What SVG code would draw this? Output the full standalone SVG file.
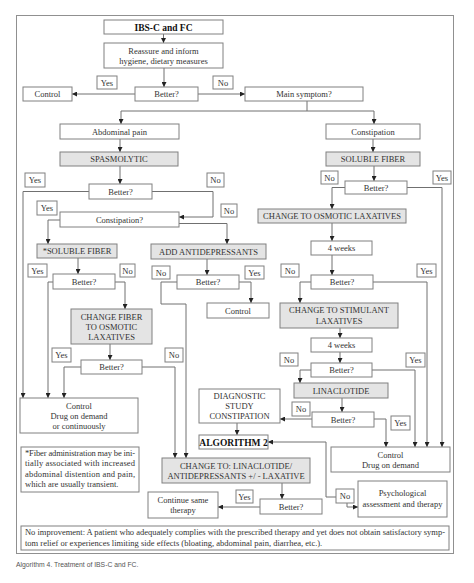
<svg xmlns="http://www.w3.org/2000/svg" width="474" height="583" viewBox="0 0 474 583">
<style>
.bx{fill:#fff;stroke:#808080;stroke-width:1}
.gr{fill:#e4e4e4;stroke:#808080;stroke-width:1}
.t{font-family:"Liberation Serif","Times New Roman",serif;font-size:8.5px;fill:#333;text-anchor:middle}
.b{font-weight:bold;font-size:9.5px;fill:#111}
.l{text-anchor:start}
.c{fill:none;stroke:#707070;stroke-width:1}
.cap{font-family:"Liberation Sans",Arial,sans-serif;font-size:6.8px;fill:#555}
</style>
<defs>
<marker id="ah" viewBox="0 0 6 6" refX="6" refY="3" markerWidth="5" markerHeight="5" orient="auto" markerUnits="userSpaceOnUse">
<path d="M0,0 L6,3 L0,6 z" fill="#222"/>
</marker>
</defs>
<rect width="474" height="583" fill="#fff"/>
<rect x="16.5" y="15.5" width="437" height="538" fill="none" stroke="#909090" stroke-width="1"/>

<g id="connectors" class="c" marker-end="url(#ah)">
<path d="M163.5,34 V43"/>
<path d="M164,68 V87"/>
<path d="M135,94 H72"/>
<path d="M198,94 H245"/>
<path d="M307,101 V111" marker-end="none"/>
<path d="M121,111 H374" marker-end="none"/>
<path d="M121,111 V124"/>
<path d="M374,111 V124"/>
<path d="M120,139 V152"/>
<path d="M120,166 V184"/>
<path d="M89,191.5 H23 V398"/>
<path d="M152,191.5 H213 V217 H179"/>
<path d="M60,220 H48 V244"/>
<path d="M179,223.5 H227 V244"/>
<path d="M78,258 V274"/>
<path d="M53,282 H48 V398"/>
<path d="M115,282 H125 V309"/>
<path d="M110,344 V360"/>
<path d="M81,367 H64 V398"/>
<path d="M142,367 H175 V458"/>
<path d="M207,259 V275"/>
<path d="M239,282 H251 V303"/>
<path d="M177,282 H161 V304 H186 V458"/>
<path d="M373,139 V152"/>
<path d="M374,166 V181"/>
<path d="M407,187.5 H442 V447"/>
<path d="M345,187.5 H332 V209"/>
<path d="M332,223 V241"/>
<path d="M332,255 V275"/>
<path d="M373,282 H427 V447"/>
<path d="M311,282 H300 V303"/>
<path d="M340,328 V338"/>
<path d="M340,352 V363"/>
<path d="M372,370 H415 V447"/>
<path d="M311,370 H300 V383"/>
<path d="M342,398 V412"/>
<path d="M374,419 H386 V447"/>
<path d="M312,419 H280"/>
<path d="M237,423 V435"/>
<path d="M282,483 V499"/>
<path d="M260,507 H218"/>
<path d="M336,497 H326 V442 H268"/>
<path d="M347,503 V507 H358"/>
</g>

<g id="n_ibs"><rect class="bx" x="104" y="20" width="119" height="14"/><text class="t b" x="163.5" y="30.5">IBS-C and FC</text></g>
<g id="n_reassure"><rect class="bx" x="104" y="43" width="119" height="25"/><text class="t" x="163.5" y="53.5">Reassure and inform</text><text class="t" x="163.5" y="63.8">hygiene, dietary measures</text></g>
<g id="l_yes1"><rect class="bx" x="97" y="76" width="20" height="13"/><text class="t" x="107" y="85.5">Yes</text></g>
<g id="l_no1"><rect class="bx" x="213" y="76" width="20" height="13"/><text class="t" x="223" y="85.5">No</text></g>
<g id="n_better1"><rect class="bx" x="135" y="87" width="63" height="14"/><text class="t" x="166.5" y="97">Better?</text></g>
<g id="n_control1"><rect class="bx" x="23" y="87" width="49" height="14"/><text class="t" x="47.5" y="97">Control</text></g>
<g id="n_main"><rect class="bx" x="245" y="87" width="118" height="14"/><text class="t" x="304" y="97">Main symptom?</text></g>
<g id="n_abd"><rect class="bx" x="60" y="124" width="119" height="15"/><text class="t" x="119.5" y="134.5">Abdominal pain</text></g>
<g id="n_constip"><rect class="bx" x="326" y="124" width="94" height="15"/><text class="t" x="373" y="134.5">Constipation</text></g>
<g id="n_spasmo"><rect class="gr" x="60" y="152" width="118" height="14"/><text class="t" x="119" y="162">SPASMOLYTIC</text></g>
<g id="l_yes2"><rect class="bx" x="25" y="173" width="20" height="14"/><text class="t" x="35" y="183">Yes</text></g>
<g id="l_no2"><rect class="bx" x="207" y="173" width="17" height="14"/><text class="t" x="215.5" y="183">No</text></g>
<g id="n_better2"><rect class="bx" x="89" y="184" width="63" height="15"/><text class="t" x="120.5" y="194.5">Better?</text></g>
<g id="l_yes3"><rect class="bx" x="37" y="201" width="20" height="14"/><text class="t" x="47" y="211">Yes</text></g>
<g id="l_no3"><rect class="bx" x="221" y="204" width="16" height="13"/><text class="t" x="229" y="213.5">No</text></g>
<g id="n_constq"><rect class="bx" x="60" y="212" width="119" height="15"/><text class="t" x="119.5" y="222.5">Constipation?</text></g>
<g id="n_sfleft"><rect class="gr" x="37" y="244" width="80" height="14"/><text class="t" x="77" y="254">*SOLUBLE FIBER</text></g>
<g id="n_antidep"><rect class="gr" x="151" y="244" width="115" height="15"/><text class="t" x="208.5" y="254.5">ADD ANTIDEPRESSANTS</text></g>
<g id="l_yes4"><rect class="bx" x="28" y="264" width="19" height="13"/><text class="t" x="37.5" y="273.5">Yes</text></g>
<g id="l_no4"><rect class="bx" x="120" y="264" width="15" height="13"/><text class="t" x="127.5" y="273.5">No</text></g>
<g id="n_better3"><rect class="bx" x="53" y="274" width="62" height="15"/><text class="t" x="84" y="284.5">Better?</text></g>
<g id="l_no5"><rect class="bx" x="152" y="266" width="18" height="13"/><text class="t" x="161" y="275.5">No</text></g>
<g id="l_yes5"><rect class="bx" x="245" y="266" width="19" height="13"/><text class="t" x="254.5" y="275.5">Yes</text></g>
<g id="n_better4"><rect class="bx" x="177" y="275" width="62" height="14"/><text class="t" x="208" y="285">Better?</text></g>
<g id="n_control2"><rect class="bx" x="207" y="303" width="62" height="15"/><text class="t" x="238" y="313.5">Control</text></g>
<g id="n_changefiber"><rect class="gr" x="71" y="309" width="81" height="35"/><text class="t" x="111.5" y="319.5">CHANGE FIBER</text><text class="t" x="111.5" y="329.8">TO OSMOTIC</text><text class="t" x="111.5" y="340">LAXATIVES</text></g>
<g id="l_yes6"><rect class="bx" x="52" y="348" width="19" height="14"/><text class="t" x="61.5" y="358">Yes</text></g>
<g id="l_no6"><rect class="bx" x="165" y="348" width="18" height="14"/><text class="t" x="174" y="358">No</text></g>
<g id="n_better5"><rect class="bx" x="81" y="360" width="61" height="14"/><text class="t" x="111.5" y="370">Better?</text></g>
<g id="n_controlleft"><rect class="bx" x="20" y="398" width="118" height="35"/><text class="t" x="79" y="409">Control</text><text class="t" x="79" y="419.2">Drug on demand</text><text class="t" x="79" y="429.4">or continuously</text></g>
<g id="n_footnote"><rect class="bx" x="21" y="447" width="118" height="45"/>
<text class="t l" x="25" y="456" textLength="110" lengthAdjust="spacing">*Fiber administration may be ini-</text>
<text class="t l" x="25" y="466.3" textLength="110" lengthAdjust="spacing">tially associated with increased</text>
<text class="t l" x="25" y="476.6" textLength="110" lengthAdjust="spacing">abdominal distention and pain,</text>
<text class="t l" x="25" y="486.9">which are usually transient.</text></g>
<g id="n_diag"><rect class="bx" x="199" y="389" width="81" height="34"/><text class="t" x="239.5" y="399">DIAGNOSTIC</text><text class="t" x="239.5" y="409">STUDY</text><text class="t" x="239.5" y="419">CONSTIPATION</text></g>
<g id="n_alg2"><rect class="bx" x="199" y="435" width="69" height="14"/><text class="t b" x="233.5" y="445.5">ALGORITHM 2</text></g>
<g id="n_changeto"><rect class="gr" x="162" y="458" width="148" height="25"/><text class="t" x="236" y="468.5">CHANGE TO: LINACLOTIDE/</text><text class="t" x="236" y="479">ANTIDEPRESSANTS +/ - LAXATIVE</text></g>
<g id="n_continue"><rect class="bx" x="148" y="492" width="70" height="26"/><text class="t" x="183" y="502.5">Continue same</text><text class="t" x="183" y="513">therapy</text></g>
<g id="l_yes7"><rect class="bx" x="236" y="490" width="17" height="13"/><text class="t" x="244.5" y="499.5">Yes</text></g>
<g id="n_betterfinal"><rect class="bx" x="260" y="499" width="62" height="15"/><text class="t" x="291" y="509.5">Better?</text></g>
<g id="l_no7"><rect class="bx" x="336" y="489" width="18" height="14"/><text class="t" x="345" y="499">No</text></g>
<g id="n_psych"><rect class="bx" x="358" y="481" width="89" height="36"/><text class="t" x="402.5" y="496">Psychological</text><text class="t" x="402.5" y="506.5">assessment and therapy</text></g>
<g id="n_controlright"><rect class="bx" x="331" y="447" width="119" height="25"/><text class="t" x="390.5" y="457.5">Control</text><text class="t" x="390.5" y="468">Drug on demand</text></g>
<g id="n_sfright"><rect class="gr" x="326" y="152" width="94" height="14"/><text class="t" x="373" y="162">SOLUBLE FIBER</text></g>
<g id="l_no8"><rect class="bx" x="321" y="171" width="17" height="13"/><text class="t" x="329.5" y="180.5">No</text></g>
<g id="l_yes8"><rect class="bx" x="433" y="171" width="18" height="13"/><text class="t" x="442" y="180.5">Yes</text></g>
<g id="n_betterr1"><rect class="bx" x="345" y="181" width="62" height="13"/><text class="t" x="376" y="190.5">Better?</text></g>
<g id="n_osmotic"><rect class="gr" x="258" y="209" width="148" height="14"/><text class="t" x="332" y="219">CHANGE TO OSMOTIC LAXATIVES</text></g>
<g id="n_weeks1"><rect class="bx" x="311" y="241" width="61" height="14"/><text class="t" x="341.5" y="251">4 weeks</text></g>
<g id="l_no9"><rect class="bx" x="281" y="264" width="18" height="13"/><text class="t" x="290" y="273.5">No</text></g>
<g id="l_yes9"><rect class="bx" x="417" y="264" width="19" height="13"/><text class="t" x="426.5" y="273.5">Yes</text></g>
<g id="n_betterr2"><rect class="bx" x="311" y="275" width="62" height="14"/><text class="t" x="342" y="285">Better?</text></g>
<g id="n_stim"><rect class="gr" x="280" y="303" width="118" height="25"/><text class="t" x="339" y="313">CHANGE TO STIMULANT</text><text class="t" x="339" y="323.5">LAXATIVES</text></g>
<g id="n_weeks2"><rect class="bx" x="311" y="338" width="61" height="14"/><text class="t" x="341.5" y="348">4 weeks</text></g>
<g id="l_no10"><rect class="bx" x="280" y="353" width="18" height="13"/><text class="t" x="289" y="362.5">No</text></g>
<g id="l_yes10"><rect class="bx" x="406" y="353" width="19" height="14"/><text class="t" x="415.5" y="363">Yes</text></g>
<g id="n_betterr3"><rect class="bx" x="311" y="363" width="61" height="14"/><text class="t" x="341.5" y="373">Better?</text></g>
<g id="n_lina"><rect class="gr" x="294" y="383" width="94" height="15"/><text class="t" x="341" y="393.5">LINACLOTIDE</text></g>
<g id="l_no11"><rect class="bx" x="292" y="402" width="18" height="14"/><text class="t" x="301" y="412">No</text></g>
<g id="n_betterr4"><rect class="bx" x="312" y="412" width="62" height="15"/><text class="t" x="343" y="422.5">Better?</text></g>
<g id="l_yes11"><rect class="bx" x="391" y="416" width="19" height="14"/><text class="t" x="400.5" y="426">Yes</text></g>
<g id="n_note"><rect class="bx" x="21" y="526" width="428" height="24"/>
<text class="t l" x="25" y="535" textLength="420" lengthAdjust="spacing">No improvement: A patient who adequately complies with the prescribed therapy and yet does not obtain satisfactory symp-</text>
<text class="t l" x="25" y="545.5">tom relief or experiences limiting side effects (bloating, abdominal pain, diarrhea, etc.).</text></g>
<text class="cap" x="16" y="567">Algorithm 4. Treatment of IBS-C and FC.</text>
</svg>
